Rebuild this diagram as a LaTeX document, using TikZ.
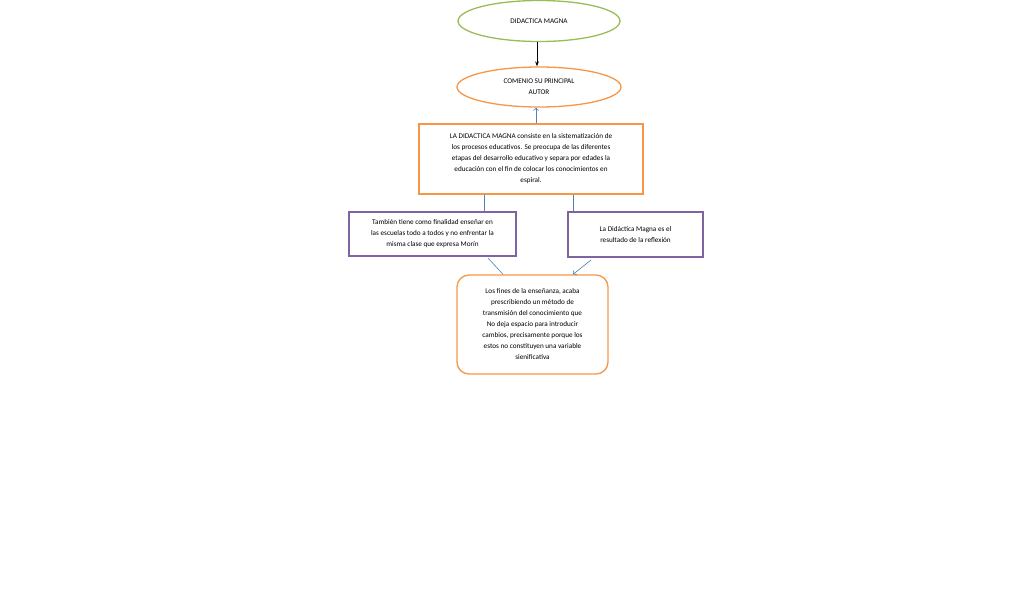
\documentclass[tikz,border=0pt]{standalone}
\usepackage{fontspec}
\setmainfont{Carlito}
\usetikzlibrary{shapes.geometric,arrows.meta}
\definecolor{gr}{RGB}{155,187,89}
\definecolor{orn}{RGB}{247,150,70}
\definecolor{pur}{RGB}{128,100,162}
\definecolor{blu}{RGB}{79,129,189}
\begin{document}
\begin{tikzpicture}[x=1pt,y=-1pt,
  every node/.style={font=\fontsize{7.2}{11}\selectfont,align=center,inner sep=0pt},
  ell/.style={ellipse,line width=1.3pt,minimum width=#1},
  bx/.style={draw,line width=1.3pt,inner sep=0pt}]
\useasboundingbox (0,0) rectangle (1024,600);
\node[ell=162,draw=gr,minimum height=41] (a) at (539,21) {DIDACTICA MAGNA};
\node[ell=164,draw=orn,minimum height=40] (b) at (539,87) {COMENIO SU PRINCIPAL\\AUTOR};
\node[bx,draw=orn,minimum width=224,minimum height=70] (c) at (531,159) {LA DIDACTICA MAGNA consiste en la sistematización de\\los procesos educativos. Se preocupa de las diferentes\\etapas del desarrollo educativo y separa por edades la\\educación con el fin de colocar los conocimientos en\\espiral.};
\node[bx,draw=pur,minimum width=167,minimum height=44] (d) at (432.5,234) {También tiene como finalidad enseñar en\\las escuelas todo a todos y no enfrentar la\\misma clase que expresa Morín};
\node[bx,draw=pur,minimum width=135,minimum height=45] (e) at (635.5,234.5) {La Didáctica Magna es el\\resultado de la reflexión};
\node[bx,draw=orn,rounded corners=12pt,minimum width=151,minimum height=99] (f) at (532.5,324.5) {Los fines de la enseñanza, acaba\\prescribiendo un método de\\transmisión del conocimiento que\\No deja espacio para introducir\\cambios, precisamente porque los\\estos no constituyen una variable\\sienificativa};
\draw[-{Stealth[length=5pt]},line width=1pt] (a.south -| 537,0) -- (b.north -| 537,0);
\draw[->,blu,line width=0.6pt] (c.north -| 536,0) -- (b.south -| 536,0);
\draw[blu,line width=0.6pt] (c.south -| 484,0) -- (d.north -| 484,0);
\draw[blu,line width=0.6pt] (c.south -| 573,0) -- (e.north -| 573,0);
\draw[blu,line width=0.6pt] (488,258) -- (f.north -| 503,0);
\draw[->,blu,line width=0.6pt] (591,260) -- (f.north -| 573,0);
\end{tikzpicture}
\end{document}
